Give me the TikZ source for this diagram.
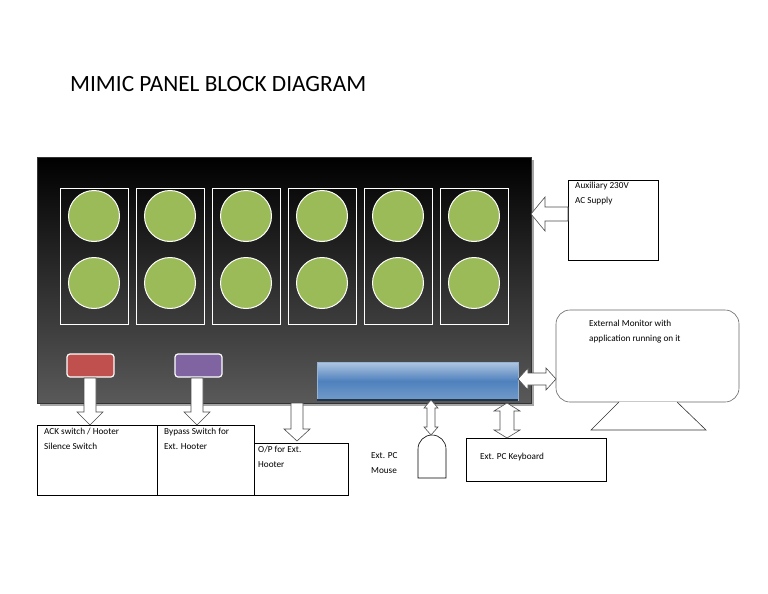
\documentclass[tikz,border=0pt]{standalone}
\usepackage{fontspec}
\setmainfont{Carlito}
\begin{document}
\newcommand\mpDown[6]{% x y1 y2 halfshaft halfhead headlen
 \draw[blockarrow] (#1-#4,#2) -- (#1+#4,#2) -- (#1+#4,#3-#6) -- (#1+#5,#3-#6) -- (#1,#3) -- (#1-#5,#3-#6) -- (#1-#4,#3-#6) -- cycle;}
\newcommand\mpVdbl[6]{%
 \draw[blockarrow] (#1,#2) -- (#1+#5,#2+#6) -- (#1+#4,#2+#6) -- (#1+#4,#3-#6) -- (#1+#5,#3-#6) -- (#1,#3) -- (#1-#5,#3-#6) -- (#1-#4,#3-#6) -- (#1-#4,#2+#6) -- (#1-#5,#2+#6) -- cycle;}
\begin{tikzpicture}[x=1pt,y=-1pt,
 blockarrow/.style={draw=black!70,fill=white,line width=0.6pt},
 box/.style={draw=black,line width=0.6pt,fill=white},
 lbl/.style={font=\fontsize{9.2}{15}\selectfont,align=left,anchor=north west,inner sep=0pt},
 col/.style={draw=white,line width=0.6pt},
 lamp/.style={circle,draw=white,line width=1pt,fill=lampgreen,minimum size=51pt,inner sep=0pt}]
\definecolor{lampgreen}{HTML}{9BBB59}
\definecolor{btnred}{HTML}{C0504D}
\definecolor{btnpurple}{HTML}{8064A2}
\definecolor{barblue}{HTML}{4F81BD}
\useasboundingbox (0,0) rectangle (768,594);
\node[anchor=west,font=\fontsize{23.3}{27}\selectfont,inner sep=0pt] (title) at (70,84) {MIMIC PANEL BLOCK DIAGRAM};
% panel
\fill[black!35] (40,160) rectangle (534,406);
\shade[top color=black,bottom color=black!65,draw=black!80] (37,157) rectangle (531,403);
\foreach \i in {0,...,5}{
 \draw[col] (60+76*\i,188) rectangle (128+76*\i,324);
 \node[lamp] (l\i a) at (94+76*\i,216) {};
 \node[lamp] (l\i b) at (94+76*\i,283) {};
}
\draw[white,line width=1.2pt,fill=btnred,rounded corners=3pt] (67,354) rectangle (114,377);
\draw[white,line width=1.2pt,fill=btnpurple,rounded corners=3pt] (175,354) rectangle (222,377);
\shade[top color=barblue!45,bottom color=barblue!80,middle color=barblue,draw=barblue!60] (317,362) rectangle (518,400);
\draw[black!60!barblue,line width=1.2pt] (317,400) -- (518,400);
% boxes
\draw[box] (37,425) rectangle (157,495);
\node[lbl] (ack) at (44,428) {ACK switch / Hooter\\Silence Switch};
\draw[box] (157,425) rectangle (254,495);
\node[lbl] (byp) at (164,428) {Bypass Switch for\\Ext. Hooter};
\draw[box] (254,443) rectangle (348,495);
\node[lbl] (op) at (258,446) {O/P for Ext.\\Hooter};
\node[lbl] (mouse) at (371,452) {Ext. PC\\Mouse};
\draw[box] (418,478) -- (418,449) arc[start angle=180,end angle=360,x radius=14,y radius=14] -- (446,478) -- cycle;
\draw[box] (466,438) rectangle (606,481);
\node[lbl] (kb) at (480,453) {Ext. PC Keyboard};
\draw[box,draw=black!60,rounded corners=14pt] (556,310) rectangle (739,402);
\node[lbl] (mon) at (589,320) {External Monitor with\\application running on it};
\draw[box,draw=black!80] (619,402) -- (591,430) -- (706,430) -- (677,402);
\draw[box] (568,180) rectangle (658,260);
\node[lbl] (aux) at (575,182) {Auxiliary 230V\\AC Supply};
% arrows
\mpDown{90}{378}{425}{6}{13}{13}
\mpDown{197}{378}{425}{6}{13}{13}
\mpDown{297}{403}{441}{6}{13}{12}
\mpVdbl{431}{400}{435}{4}{7}{8}
\mpVdbl{507}{403}{438}{7}{13}{8}
\draw[blockarrow] (518,379) -- (528,368) -- (528,373) -- (546,373) -- (546,368) -- (556,379) -- (546,390) -- (546,385) -- (528,385) -- (528,390) -- cycle;
\draw[blockarrow] (531,214) -- (545,197) -- (545,207) -- (568,207) -- (568,221) -- (545,221) -- (545,231) -- cycle;
\end{tikzpicture}
\end{document}
